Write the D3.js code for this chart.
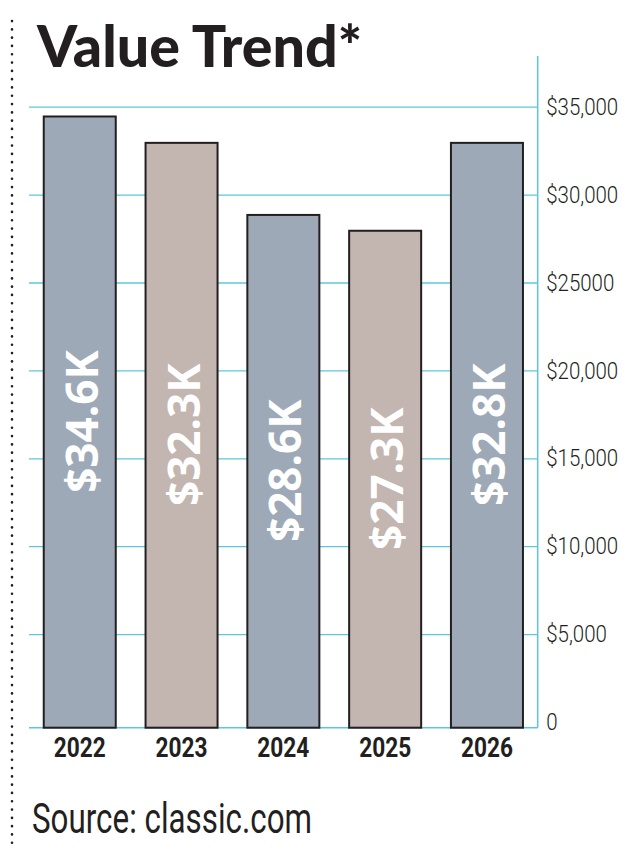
<!DOCTYPE html>
<html>
<head>
<meta charset="utf-8">
<script src="https://cdn.jsdelivr.net/npm/d3@7"></script>
<style>
  html, body { margin: 0; padding: 0; background: #ffffff; }
  svg { display: block; }
</style>
</head>
<body>
<div id="chart"></div>
<script>
// ---- data ----
const years = ["2022", "2023", "2024", "2025", "2026"];
const values = [34500, 33000, 28900, 28000, 33000];
const valueLabels = ["$34.6K", "$32.3K", "$28.6K", "$27.3K", "$32.8K"];
const tickValues = [0, 5000, 10000, 15000, 20000, 25000, 30000, 35000];
const tickLabels = ["0", "$5,000", "$10,000", "$15,000", "$20,000", "$25000", "$30,000", "$35,000"];
const title = "Value Trend*";
const source = "Source: classic.com";

// ---- style ----
const W = 631, H = 857;
const palette = ["#9ea9b7", "#c3b5b0"];
const ink = "#231f20";
const cyan = "#5cc6e0";
const narrowFont = "Roboto, 'Open Sans', sans-serif";

const left = 29, right = 537.7, axisTop = 56, baseY = 727.7;

const svg = d3.select("#chart").append("svg")
  .attr("width", W).attr("height", H);

// dotted margin line
svg.append("line")
  .attr("x1", 12).attr("x2", 12).attr("y1", 21).attr("y2", 843)
  .attr("stroke", ink).attr("stroke-width", 2.6)
  .attr("stroke-linecap", "round")
  .attr("stroke-dasharray", "0.1 8.2");

// title
svg.append("text")
  .attr("x", 37).attr("y", 67)
  .attr("font-family", "Lato, 'Open Sans', sans-serif")
  .attr("font-weight", 900)
  .attr("font-size", 58)
  .attr("fill", ink)
  .attr("textLength", 325)
  .attr("lengthAdjust", "spacingAndGlyphs")
  .text(title);

// scales
const x = d3.scaleBand().domain(years).range([left, right])
  .paddingInner(0.273).paddingOuter(0.135);
const y = d3.scaleLinear().domain([0, 35000]).range([722, 106.7]);

// axis + gridlines
const axis = d3.axisRight(y)
  .tickValues(tickValues)
  .tickFormat((d, i) => tickLabels[i])
  .tickSize(-(right - left))
  .tickPadding(8.5);

const gAxis = svg.append("g")
  .attr("transform", `translate(${right},0)`)
  .call(axis);
gAxis.select(".domain").remove();
gAxis.selectAll(".tick line")
  .attr("stroke", cyan).attr("stroke-width", 1.3)
  .attr("display", d => d === 0 ? "none" : null);
const tickTexts = gAxis.selectAll(".tick text")
  .attr("font-family", narrowFont)
  .attr("font-weight", 300)
  .attr("font-size", 24)
  .attr("fill", ink)
  .attr("dy", "0.32em");
// condense tick labels so "$35,000" is ~72px wide
let refW = 1;
tickTexts.each(function(d) { if (d === 35000) refW = this.getComputedTextLength(); });
const k = 72 / refW;
tickTexts.each(function() {
  const w = this.getComputedTextLength();
  d3.select(this).attr("textLength", w * k).attr("lengthAdjust", "spacingAndGlyphs");
});

// vertical axis line
svg.append("line")
  .attr("x1", right).attr("x2", right).attr("y1", axisTop).attr("y2", baseY)
  .attr("stroke", cyan).attr("stroke-width", 1.5);
// baseline
svg.append("line")
  .attr("x1", left).attr("x2", right).attr("y1", baseY).attr("y2", baseY)
  .attr("stroke", cyan).attr("stroke-width", 1.5);

// bars
svg.append("g").selectAll("rect")
  .data(values)
  .join("rect")
  .attr("x", (d, i) => x(years[i]) + 1)
  .attr("y", d => y(d) + 1)
  .attr("width", x.bandwidth() - 2)
  .attr("height", d => baseY - y(d) - 1)
  .attr("fill", (d, i) => palette[i % 2])
  .attr("stroke", ink)
  .attr("stroke-width", 2);

// value labels inside bars (rotated)
svg.append("g").selectAll("text")
  .data(values)
  .join("text")
  .attr("transform", (d, i) => {
    const cx = x(years[i]) + x.bandwidth() / 2 + 18;
    const cy = (y(d) + baseY) / 2;
    return `translate(${cx},${cy}) rotate(-90)`;
  })
  .attr("text-anchor", "middle")
  .attr("font-family", "'Open Sans', Lato, sans-serif")
  .attr("font-weight", 700)
  .attr("font-size", 44)
  .attr("fill", "#ffffff")
  .text((d, i) => valueLabels[i]);

// year labels
svg.append("g").selectAll("text")
  .data(years)
  .join("text")
  .attr("x", d => x(d) + x.bandwidth() / 2)
  .attr("y", 756.7)
  .attr("text-anchor", "middle")
  .attr("font-family", narrowFont)
  .attr("font-weight", 700)
  .attr("font-size", 28)
  .attr("fill", ink)
  .attr("textLength", 52)
  .attr("lengthAdjust", "spacingAndGlyphs")
  .text(d => d);

// source
svg.append("text")
  .attr("x", 32).attr("y", 833)
  .attr("font-family", narrowFont)
  .attr("font-size", 43)
  .attr("fill", ink)
  .attr("textLength", 280)
  .attr("lengthAdjust", "spacingAndGlyphs")
  .text(source);
</script>
</body>
</html>
